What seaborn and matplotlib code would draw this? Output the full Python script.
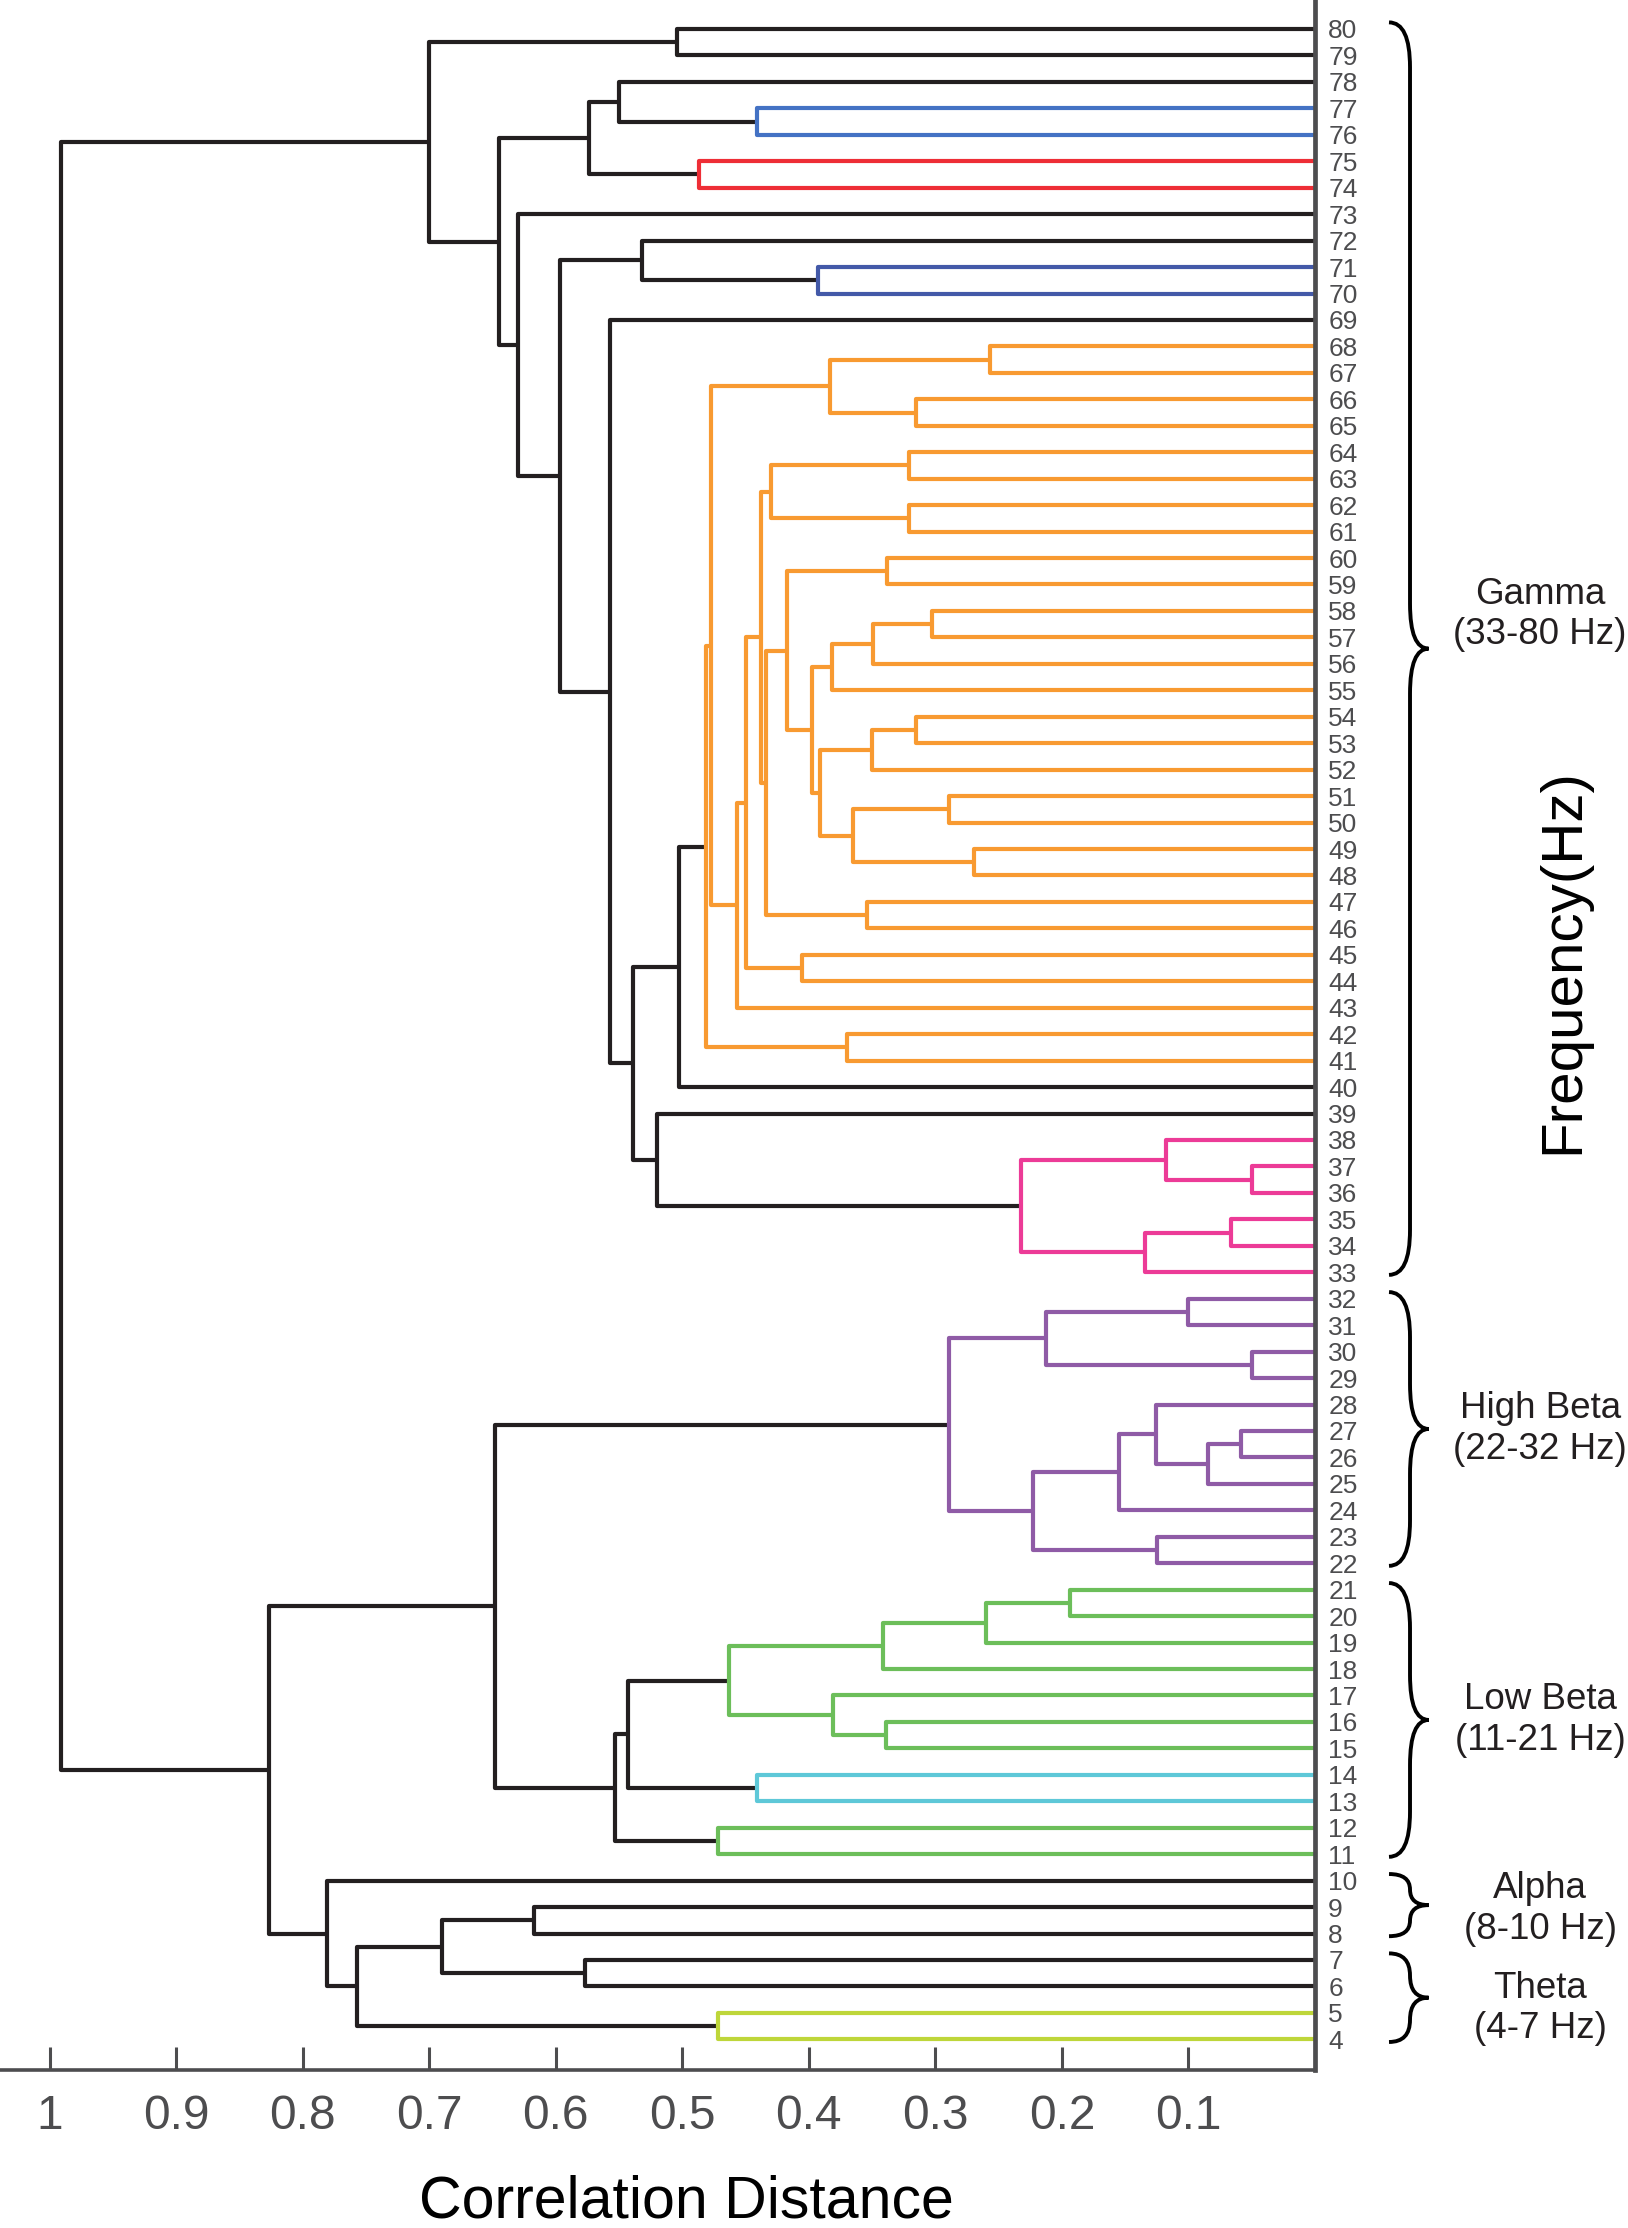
import numpy as np
import pandas as pd
import matplotlib
matplotlib.use("Agg")
import matplotlib.pyplot as plt
from matplotlib.path import Path
from matplotlib.patches import PathPatch
import matplotlib.transforms as mtransforms
import seaborn as sns

# ---------------- data ----------------
leaves = list(range(80, 3, -1))          # frequency bins, top to bottom

# merges: name, upper child, lower child, correlation distance, colour group
link_name = [
    "n8079", "n7776", "n78", "n7574", "n78_74", "n7170", "n72",
    "o6867", "o6665", "o68_65", "o6463", "o6261", "oA", "o6059", "o5857", "oX", "o55",
    "o5453", "o52", "o5150", "o4948", "o51_48", "o54_48", "oM", "oN1", "o4746", "oS",
    "oT", "o4544", "oR", "oQ", "oP", "o4241", "oroot", "n40",
    "p3736", "p38", "p3534", "p33", "proot", "n39", "n443", "n69", "n392", "n73", "n349", "ntop",
    "u3231", "u3029", "u32_29", "u2726", "u25", "u28", "u24", "u2322", "u28_22", "uroot",
    "g2120", "g19", "g18", "g1615", "g17", "gtop", "c1413", "n_gc", "g1211", "n_lb", "n_beta",
    "b98", "b76", "b9_6", "y54", "b9_4", "b10", "n_low", "root",
]
link_upper = [
    80, 77, 78, 75, "n78", 71, 72,
    68, 66, "o6867", 64, 62, "o6463", 60, 58, "o5857", "oX",
    54, "o5453", 51, 49, "o5150", "o52", "o55", "o6059", 47, "oN1",
    "oA", 45, "oT", "oR", "o68_65", 42, "oP", "oroot",
    37, 38, 35, "p3534", "p38", 39, "n40", 69, "n72", 73, "n78_74", "n8079",
    32, 30, "u3231", 27, 25, 28, "u28", 23, "u24", "u32_29",
    21, "g2120", "g19", 16, 17, "g18", 14, "gtop", 12, "n_gc", "uroot",
    9, 7, "b98", 5, "b9_6", 10, "n_beta", "ntop",
]
link_lower = [
    79, 76, "n7776", 74, "n7574", 70, "n7170",
    67, 65, "o6665", 63, 61, "o6261", 59, 57, 56, 55,
    53, 52, 50, 48, "o4948", "o51_48", "o54_48", "oM", 46, "o4746",
    "oS", 44, "o4544", 43, "oQ", 41, "o4241", 40,
    36, "p3736", 34, 33, "p33", "proot", "n39", "n443", "n69", "n392", "n73", "n349",
    31, 29, "u3029", 26, "u2726", "u25", 24, 22, "u2322", "u28_22",
    20, 19, 18, 15, "g1615", "g17", 13, "c1413", 11, "g1211", "n_lb",
    8, 6, "b76", 4, "y54", "b9_4", "b10", "n_low",
]
link_height = [
    0.504, 0.441, 0.550, 0.487, 0.574, 0.393, 0.532,
    0.257, 0.315, 0.383, 0.321, 0.321, 0.430, 0.338, 0.303, 0.349, 0.382,
    0.315, 0.350, 0.289, 0.2695, 0.365, 0.391, 0.3975, 0.417, 0.354, 0.434,
    0.438, 0.4055, 0.450, 0.4565, 0.4776, 0.370, 0.4815, 0.503,
    0.050, 0.118, 0.066, 0.134, 0.232, 0.520, 0.539, 0.557, 0.597, 0.630, 0.645, 0.700,
    0.1006, 0.0496, 0.2129, 0.0586, 0.0843, 0.1257, 0.1546, 0.125, 0.2228, 0.2895,
    0.1933, 0.2603, 0.3415, 0.3389, 0.3806, 0.4631, 0.4407, 0.5430, 0.4722, 0.553, 0.648,
    0.617, 0.577, 0.690, 0.4715, 0.757, 0.781, 0.827, 0.991,
]
link_group = (
    ["k", "blue1", "k", "red", "k", "blue2", "k"]
    + ["orange"] * 27 + ["k"]
    + ["pink"] * 5 + ["k"] * 7
    + ["purple"] * 10
    + ["green"] * 6 + ["cyan", "k", "green", "k", "k"]
    + ["k", "k", "k", "yellow", "k", "k", "k", "k"]
)

band_names = ["Gamma\n(33-80 Hz)", "High Beta\n(22-32 Hz)", "Low Beta\n(11-21 Hz)",
              "Alpha\n(8-10 Hz)", "Theta\n(4-7 Hz)"]
band_top = [80, 32, 21, 10, 7]
band_bottom = [33, 22, 11, 8, 4]

x_ticks = [1, 0.9, 0.8, 0.7, 0.6, 0.5, 0.4, 0.3, 0.2, 0.1]
x_ticklabels = ["1", "0.9", "0.8", "0.7", "0.6", "0.5", "0.4", "0.3", "0.2", "0.1"]

palette = {
    "k": "#231f20", "blue1": "#4472c4", "blue2": "#4359a8", "red": "#ee2e36",
    "orange": "#f89a31", "pink": "#ec3b97", "purple": "#8f5ba6", "green": "#6cbe5a",
    "cyan": "#5ec8d8", "yellow": "#bed63a",
}

# ---------------- build segments ----------------
pos = {leaf: (0.0, float(i)) for i, leaf in enumerate(leaves)}
rows = []
for seg, (nm, a, b, h, g) in enumerate(zip(link_name, link_upper, link_lower, link_height, link_group)):
    xa, ya = pos[a]
    xb, yb = pos[b]
    for order, (x, y) in enumerate([(xa, ya), (h, ya), (h, yb), (xb, yb)]):
        rows.append({"seg": seg, "order": order, "x": x, "y": y, "grp": g})
    pos[nm] = (h, (ya + yb) / 2.0)
df = pd.DataFrame(rows)

# ---------------- figure ----------------
sns.set_theme(style="white")
plt.rcParams["font.family"] = ["Liberation Sans", "DejaVu Sans"]

fig = plt.figure(figsize=(16.28, 22.28), dpi=100)
ax = fig.add_axes([0.0, 0.0709, 0.8077, 0.9291])

sns.lineplot(data=df, x="x", y="y", units="seg", estimator=None, sort=False,
             hue="grp", palette=palette, legend=False, linewidth=3.0, ax=ax)
for ln in ax.get_lines():
    ln.set_solid_capstyle("butt")
    ln.set_solid_joinstyle("round")

ax.set_xlim(1.0393, 0.0)
ax.set_ylim(77.16, -1.096)

gray = "#4d4d4f"
for s in ["left", "top"]:
    ax.spines[s].set_visible(False)
ax.spines["bottom"].set_color(gray)
ax.spines["bottom"].set_linewidth(2.6)
ax.spines["right"].set_color(gray)
ax.spines["right"].set_linewidth(3.4)
ax.spines["right"].set_visible(True)

ax.set_xticks(x_ticks)
ax.set_xticklabels(x_ticklabels)
ax.tick_params(axis="x", direction="in", length=16.5, width=2.2, color=gray,
               labelsize=34.5, labelcolor=gray, pad=17, bottom=True)

ax.yaxis.tick_right()
ax.set_yticks(range(len(leaves)))
ax.set_yticklabels([str(v) for v in leaves])
ax.tick_params(axis="y", length=0, labelsize=19, labelcolor=gray, pad=9.5,
               right=True, left=False)
ax.set_xlabel("")
ax.set_ylabel("")
ax.grid(False)

# ---------------- braces and band labels ----------------
tr = mtransforms.blended_transform_factory(fig.transFigure, ax.transData)
x_hook, x_body, x_tip = 0.8532, 0.8661, 0.8775
label_offset = [-1.3, 0.0, 0.0, 0.15, 0.4]
for name, t, b, off in zip(band_names, band_top, band_bottom, label_offset):
    y0 = leaves.index(t) - 0.25
    y1 = leaves.index(b) + 0.1
    ym = (y0 + y1) / 2.0
    r = min(1.7, (y1 - y0) / 4.0)
    verts = [(x_hook, y0), (x_body, y0), (x_body, y0 + r),
             (x_body, ym - r), (x_body, ym), (x_tip, ym),
             (x_body, ym), (x_body, ym + r),
             (x_body, y1 - r), (x_body, y1), (x_hook, y1)]
    codes = [Path.MOVETO, Path.CURVE3, Path.CURVE3,
             Path.LINETO, Path.CURVE3, Path.CURVE3,
             Path.CURVE3, Path.CURVE3,
             Path.LINETO, Path.CURVE3, Path.CURVE3]
    patch = PathPatch(Path(verts, codes), transform=tr, fill=False,
                      edgecolor="#000000", linewidth=2.8, clip_on=False)
    fig.add_artist(patch)
    fig.text(0.946, ym + off, name, transform=tr, ha="center", va="center",
             fontsize=26.5, color="#231f20", linespacing=1.2)

fig.text(0.960, 0.5687, "Frequency(Hz)", rotation=90, ha="center", va="center",
         fontsize=42, color="#000000")
fig.text(0.4214, 0.0117, "Correlation Distance", ha="center", va="center",
         fontsize=42.5, color="#000000")

fig.savefig("out.png", dpi=100)
